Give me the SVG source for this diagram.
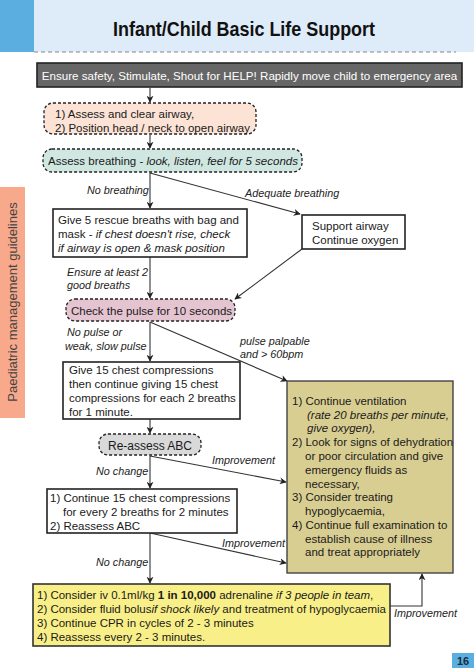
<svg xmlns="http://www.w3.org/2000/svg" width="474" height="668" viewBox="0 0 474 668">
<defs>
<marker id="ah" viewBox="0 0 10 10" refX="9" refY="5" markerWidth="7" markerHeight="7" orient="auto" markerUnits="userSpaceOnUse">
<path d="M0,0 L10,5 L0,10 L3,5 Z" fill="#222"/>
</marker>
<style>
text{font-family:"Liberation Sans",Arial,sans-serif;font-size:11.5px;fill:#1a1a1a}
.it{font-style:italic}
.lbl{font-style:italic;font-size:10.8px;fill:#222}
.box{stroke:#222;stroke-width:1.6}
.dash{stroke:#222;stroke-width:1.3;stroke-dasharray:3,2}
.con{stroke:#333;stroke-width:1.1;fill:none;marker-end:url(#ah)}
</style>
</defs>
<rect width="474" height="668" fill="#ffffff"/>
<g id="header">
<rect x="34" y="0" width="440" height="52" fill="#deebf8"/>
<rect x="0" y="0" width="34" height="52" fill="#5aafe0"/>
<line x1="34" y1="52" x2="456" y2="52" stroke="#888" stroke-width="1" stroke-dasharray="4,3"/>
<text x="244" y="36" text-anchor="middle" font-weight="bold" style="font-size:21px;fill:#111" textLength="262" lengthAdjust="spacingAndGlyphs">Infant/Child Basic Life Support</text>
</g>
<g id="side-tab">
<rect x="0" y="187" width="25" height="231" fill="#f9a98b"/>
<text transform="translate(17,302) rotate(-90)" text-anchor="middle" style="font-size:13px;fill:#444">Paediatric management guidelines</text>
</g>
<g id="page-number">
<rect x="452" y="653" width="22" height="15" fill="#5aafe0"/>
<text x="463" y="665" text-anchor="middle" font-weight="bold" style="font-size:11px;fill:#1a2a3a">16</text>
</g>
<g id="connectors">
<line class="con" x1="150" y1="88" x2="150" y2="102"/>
<line class="con" x1="150" y1="135" x2="150" y2="148"/>
<line class="con" x1="150" y1="173" x2="150" y2="208"/>
<line class="con" x1="150" y1="173" x2="300" y2="214"/>
<line class="con" x1="150" y1="257" x2="150" y2="298"/>
<line class="con" x1="302" y1="249" x2="235" y2="299"/>
<line class="con" x1="150" y1="322" x2="150" y2="361"/>
<line class="con" x1="150" y1="322" x2="287" y2="381"/>
<line class="con" x1="150" y1="419" x2="150" y2="433"/>
<line class="con" x1="150" y1="456" x2="150" y2="488"/>
<line class="con" x1="150" y1="456" x2="286" y2="482"/>
<line class="con" x1="150" y1="533" x2="150" y2="583"/>
<line class="con" x1="150" y1="533" x2="286" y2="563"/>
<polyline class="con" points="390,606 422,606 422,574"/>
<text class="lbl" x="87" y="194">No breathing</text>
<text class="lbl" x="245" y="197">Adequate breathing</text>
<text class="lbl" x="67" y="276">Ensure at least 2</text>
<text class="lbl" x="67" y="289">good breaths</text>
<text class="lbl" x="67" y="336">No pulse or</text>
<text class="lbl" x="65" y="350">weak, slow pulse</text>
<text class="lbl" x="240" y="345">pulse palpable</text>
<text class="lbl" x="240" y="358">and &gt; 60bpm</text>
<text class="lbl" x="212" y="464">Improvement</text>
<text class="lbl" x="96" y="475">No change</text>
<text class="lbl" x="222" y="547">Improvement</text>
<text class="lbl" x="96" y="566">No change</text>
<text class="lbl" x="394" y="617">Improvement</text>
</g>
<g id="n-safety">
<rect class="box" x="37" y="63" width="425" height="24" fill="#666666"/>
<text x="249.5" y="79.5" text-anchor="middle" style="fill:#ffffff;font-size:11.6px">Ensure safety, Stimulate, Shout for HELP! Rapidly move child to emergency area</text>
</g>
<g id="n-airway">
<rect class="dash" x="44" y="103" width="212" height="31" rx="9" fill="#fce3d6"/>
<text x="55" y="118">1) Assess and clear airway,</text>
<text x="55" y="132">2) Position head / neck to open airway</text>
</g>
<g id="n-breathing">
<rect class="dash" x="43" y="149" width="259" height="23" rx="9" fill="#d0e7e1"/>
<text x="48" y="165">Assess breathing - <tspan class="it">look, listen, feel for 5 seconds</tspan></text>
</g>
<g id="n-rescue">
<rect class="box" x="53" y="209" width="194" height="48" fill="#ffffff"/>
<text x="58" y="224">Give 5 rescue breaths with bag and</text>
<text x="58" y="238">mask - <tspan class="it">if chest doesn't rise, check</tspan></text>
<text x="58" y="252" class="it">if airway is open &amp; mask position</text>
</g>
<g id="n-support">
<rect class="box" x="302" y="215" width="103" height="34" fill="#ffffff"/>
<text x="312" y="230">Support airway</text>
<text x="312" y="244">Continue oxygen</text>
</g>
<g id="n-pulse">
<rect class="dash" x="66" y="299" width="169" height="22" rx="9" fill="#e5c4d1"/>
<text x="71" y="314.5">Check the pulse for 10 seconds</text>
</g>
<g id="n-compress">
<rect class="box" x="63" y="362" width="177" height="57" fill="#ffffff"/>
<text x="69" y="374">Give 15 chest compressions</text>
<text x="69" y="388">then continue giving 15 chest</text>
<text x="69" y="402">compressions for each 2 breaths</text>
<text x="69" y="416">for 1 minute.</text>
</g>
<g id="n-reassess">
<rect class="dash" x="99" y="434" width="102" height="21" rx="9" fill="#d9d9d9"/>
<text x="150" y="449.5" text-anchor="middle" style="font-size:12px">Re-assess ABC</text>
</g>
<g id="n-continue">
<rect class="box" x="47" y="489" width="190" height="44" fill="#ffffff"/>
<text x="50" y="502">1) Continue 15 chest compressions</text>
<text x="63" y="516">for every 2 breaths for 2 minutes</text>
<text x="50" y="530">2) Reassess ABC</text>
</g>
<g id="n-ventilation">
<rect x="287" y="381" width="166" height="192" fill="#d9ce92" stroke="#444" stroke-width="1.4"/>
<text x="292" y="405">1) Continue ventilation</text>
<text x="307" y="419" class="it">(rate 20 breaths per minute,</text>
<text x="307" y="432" class="it">give oxygen),</text>
<text x="292" y="446">2) Look for signs of dehydration</text>
<text x="305" y="460">or poor circulation and give</text>
<text x="305" y="474">emergency fluids as</text>
<text x="305" y="488">necessary,</text>
<text x="292" y="501">3) Consider treating</text>
<text x="305" y="515">hypoglycaemia,</text>
<text x="292" y="529">4) Continue full examination to</text>
<text x="305" y="543">establish cause of illness</text>
<text x="305" y="556">and treat appropriately</text>
</g>
<g id="n-adrenaline">
<rect x="33" y="584" width="357" height="62" fill="#f8ef88" stroke="#333" stroke-width="1.6"/>
<text x="37" y="599">1) Consider iv 0.1ml/kg <tspan font-weight="bold">1 in 10,000</tspan> adrenaline <tspan class="it">if 3 people in team</tspan>,</text>
<text x="37" y="613">2) Consider fluid bolus<tspan class="it">if shock likely</tspan> and treatment of hypoglycaemia</text>
<text x="37" y="627">3) Continue CPR in cycles of 2 - 3 minutes</text>
<text x="37" y="641">4) Reassess every 2 - 3 minutes.</text>
</g>
</svg>
